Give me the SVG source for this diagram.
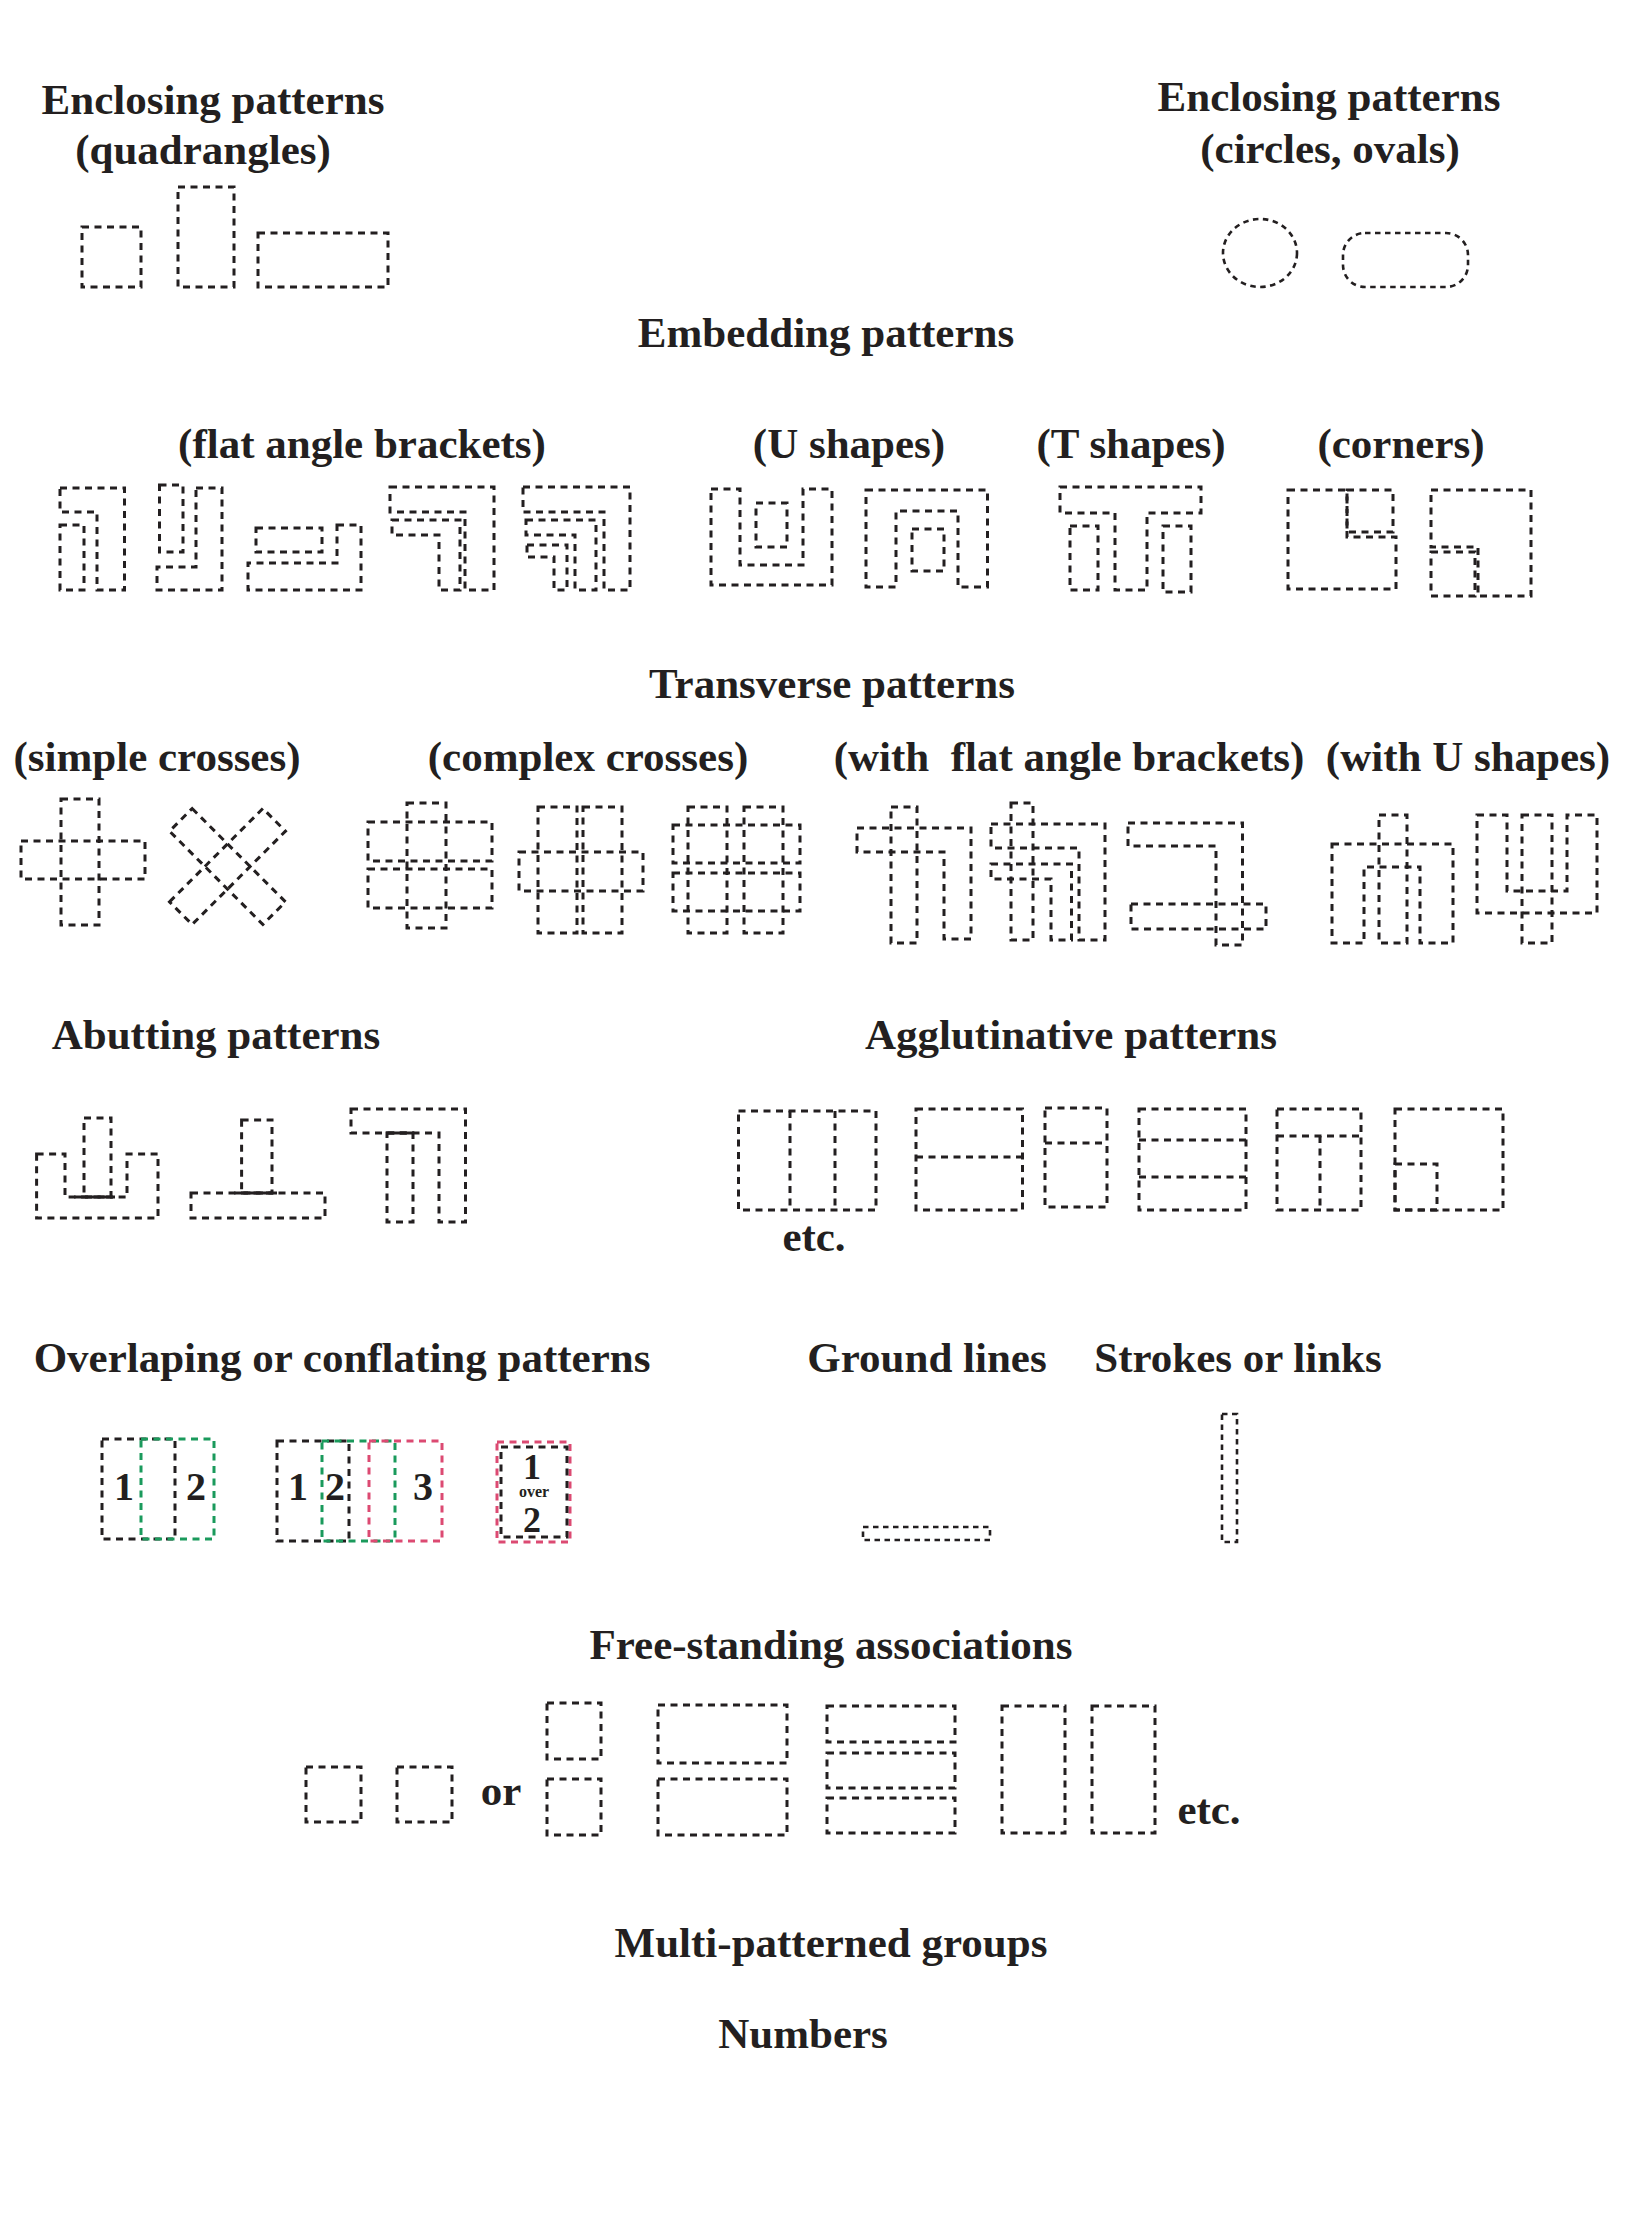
<svg xmlns="http://www.w3.org/2000/svg" width="1628" height="2224" viewBox="0 0 1628 2224">
<style>
.d{fill:none;stroke:#231f20;stroke-width:3;stroke-dasharray:7 5.5}
.ds{fill:none;stroke:#231f20;stroke-width:2.6;stroke-dasharray:5.5 4.5}
.g{fill:none;stroke:#1a9a5c;stroke-width:3;stroke-dasharray:7 5.5}
.p{fill:none;stroke:#dc4a72;stroke-width:3;stroke-dasharray:7 5.5}
.sl{stroke:#231f20;stroke-width:3}
.t{font-family:"Liberation Serif","Times New Roman",serif;font-weight:bold;font-size:43px;fill:#231f20;text-anchor:middle}
.n{font-family:"Liberation Serif","Times New Roman",serif;font-weight:bold;font-size:40px;fill:#231f20;text-anchor:middle}
</style>
<rect width="1628" height="2224" fill="#ffffff"/>

<g id="enclosing-quadrangles">
<text class="t" x="213" y="114">Enclosing patterns</text>
<text class="t" x="203" y="164">(quadrangles)</text>
<rect class="d" x="82" y="227" width="59" height="60"/>
<rect class="d" x="178" y="187" width="56" height="100"/>
<rect class="d" x="258" y="233" width="130" height="54"/>
</g>

<g id="enclosing-circles">
<text class="t" x="1329" y="111">Enclosing patterns</text>
<text class="t" x="1330" y="163">(circles, ovals)</text>
<ellipse class="ds" cx="1260" cy="253" rx="37" ry="34"/>
<rect class="ds" x="1343" y="233" width="125" height="54" rx="22"/>
</g>

<g id="embedding">
<text class="t" x="826" y="347">Embedding patterns</text>
<text class="t" x="362" y="458">(flat angle brackets)</text>
<text class="t" x="849" y="458">(U shapes)</text>
<text class="t" x="1131" y="458">(T shapes)</text>
<text class="t" x="1401" y="458">(corners)</text>
<polygon class="d" points="60,488 124.5,488 124.5,590 97,590 97,512 60,512"/>
<rect class="d" x="60" y="525" width="24" height="65"/>
<polygon class="d" points="196,488 222,488 222,590 157,590 157,567 196,567"/>
<rect class="d" x="159.5" y="485" width="23.5" height="67"/>
<polygon class="d" points="337,525 361,525 361,590 248,590 248,563 337,563"/>
<rect class="d" x="256" y="528" width="66" height="24"/>
<polygon class="d" points="390,487 494,487 494,590 465,590 465,512 390,512"/>
<polygon class="d" points="392,520 460,520 460,590 439,590 439,535 392,535"/>
<polygon class="d" points="523,487 630,487 630,590 604,590 604,512 523,512"/>
<polygon class="d" points="526,520 596,520 596,590 575,590 575,535 526,535"/>
<polygon class="d" points="527,545 567,545 567,590 554,590 554,557 527,557"/>
<polygon class="d" points="711,489 740,489 740,565 803,565 803,489 832,489 832,585 711,585"/>
<rect class="d" x="756" y="503" width="31" height="44"/>
<polygon class="d" points="866,490 987.5,490 987.5,587 958,587 958,511 896,511 896,587 866,587"/>
<rect class="d" x="912" y="529" width="32" height="42"/>
<polygon class="d" points="1060,487 1201,487 1201,513 1147,513 1147,590 1115,590 1115,513 1060,513"/>
<rect class="d" x="1070" y="526" width="28" height="64"/>
<rect class="d" x="1163" y="526" width="28" height="66"/>
<polygon class="d" points="1288,490 1347,490 1347,537 1396,537 1396,589 1288,589"/>
<rect class="d" x="1347" y="490" width="46" height="42"/>
<polygon class="d" points="1431,490 1531,490 1531,596 1478,596 1478,547 1431,547"/>
<rect class="d" x="1431" y="552" width="44" height="44"/>
</g>

<g id="transverse">
<text class="t" x="832" y="698">Transverse patterns</text>
<text class="t" x="157" y="771">(simple crosses)</text>
<text class="t" x="588" y="771">(complex crosses)</text>
<text class="t" x="1069" y="771" xml:space="preserve">(with  flat angle brackets)</text>
<text class="t" x="1468" y="771">(with U shapes)</text>
<rect class="d" x="61" y="799" width="38" height="126"/>
<rect class="d" x="21" y="841" width="124" height="38"/>
<g transform="translate(227.5,866.5)">
<rect class="d" x="-66" y="-16" width="132" height="32" transform="rotate(45)"/>
<rect class="d" x="-66" y="-16" width="132" height="32" transform="rotate(-45)"/>
</g>
<rect class="d" x="407" y="803" width="39" height="125"/>
<rect class="d" x="368" y="822" width="124" height="39"/>
<rect class="d" x="368" y="869" width="124" height="39"/>
<rect class="d" x="538" y="807" width="39" height="126"/>
<rect class="d" x="583" y="807" width="39" height="126"/>
<rect class="d" x="519" y="852" width="124" height="39"/>
<rect class="d" x="688" y="807" width="39" height="126"/>
<rect class="d" x="744" y="807" width="39" height="126"/>
<rect class="d" x="673" y="825" width="127" height="38"/>
<rect class="d" x="673" y="873" width="127" height="38"/>
<polygon class="d" points="857,828 971,828 971,939 944,939 944,852 857,852"/>
<rect class="d" x="891" y="807" width="26" height="136"/>
<polygon class="d" points="991,824 1105,824 1105,940 1079,940 1079,848 991,848"/>
<polygon class="d" points="991,864 1071.5,864 1071.5,940 1051,940 1051,879 991,879"/>
<rect class="d" x="1011" y="803" width="22" height="137"/>
<polygon class="d" points="1128,823 1242.5,823 1242.5,945 1216,945 1216,846 1128,846"/>
<rect class="d" x="1131" y="904" width="135" height="25"/>
<polygon class="d" points="1332,844 1453,844 1453,943 1420,943 1420,867 1364,867 1364,943 1332,943"/>
<rect class="d" x="1379" y="815" width="28" height="128"/>
<polygon class="d" points="1477,815 1507,815 1507,891 1567,891 1567,815 1597,815 1597,913 1477,913"/>
<rect class="d" x="1522" y="815" width="30" height="128"/>
</g>

<g id="abutting">
<text class="t" x="216" y="1049">Abutting patterns</text>
<polygon class="d" points="36.6,1154 65,1154 65,1197 127,1197 127,1154 158,1154 158,1218 36.6,1218"/>
<rect class="d" x="84" y="1118" width="27" height="79"/>
<line class="sl" x1="74" y1="1197" x2="115" y2="1197"/>
<rect class="d" x="241.6" y="1120" width="30.4" height="73"/>
<rect class="d" x="191" y="1193" width="134" height="25"/>
<line class="sl" x1="234" y1="1193" x2="277" y2="1193"/>
<polygon class="d" points="351,1109 465.5,1109 465.5,1222 439,1222 439,1133 351,1133"/>
<rect class="d" x="387" y="1133" width="26" height="89"/>
<line class="sl" x1="386" y1="1133" x2="414" y2="1133"/>
</g>

<g id="agglutinative">
<text class="t" x="1071" y="1049">Agglutinative patterns</text>
<rect class="d" x="738.5" y="1111" width="137.5" height="99"/>
<line class="d" x1="790" y1="1111" x2="790" y2="1210"/>
<line class="d" x1="835" y1="1111" x2="835" y2="1210"/>
<rect class="d" x="916" y="1109" width="106.5" height="101"/>
<line class="d" x1="916" y1="1157" x2="1022.5" y2="1157"/>
<rect class="d" x="1045" y="1108" width="62" height="99"/>
<line class="d" x1="1045" y1="1143" x2="1107" y2="1143"/>
<rect class="d" x="1139" y="1109" width="107" height="101"/>
<line class="d" x1="1139" y1="1140" x2="1246" y2="1140"/>
<line class="d" x1="1139" y1="1177" x2="1246" y2="1177"/>
<rect class="d" x="1277" y="1109" width="84" height="101"/>
<line class="d" x1="1277" y1="1136" x2="1361" y2="1136"/>
<line class="d" x1="1320" y1="1136" x2="1320" y2="1210"/>
<rect class="d" x="1395" y="1109" width="108" height="101"/>
<rect class="d" x="1395" y="1164" width="42" height="46"/>
<text class="t" x="814" y="1251">etc.</text>
</g>

<g id="overlapping">
<text class="t" x="342" y="1372">Overlaping or conflating patterns</text>
<rect class="d" x="102" y="1439" width="73" height="100"/>
<rect class="g" x="141" y="1439" width="73" height="100"/>
<text class="n" x="124" y="1500">1</text>
<text class="n" x="196" y="1500">2</text>
<rect class="d" x="277" y="1441" width="72" height="100"/>
<rect class="g" x="322" y="1441" width="73" height="100"/>
<rect class="p" x="369" y="1441" width="73" height="100"/>
<text class="n" x="298" y="1500">1</text>
<text class="n" x="335" y="1500">2</text>
<text class="n" x="423" y="1500">3</text>
<rect class="p" x="497" y="1442" width="73" height="100"/>
<rect class="d" x="501" y="1447" width="66" height="90"/>
<text class="n" x="532" y="1479" style="font-size:36px">1</text>
<text class="n" x="534" y="1497" style="font-size:16px">over</text>
<text class="n" x="532" y="1532" style="font-size:36px">2</text>
</g>

<g id="ground-lines">
<text class="t" x="927" y="1372">Ground lines</text>
<rect class="ds" x="863" y="1527" width="127" height="13"/>
</g>

<g id="strokes-links">
<text class="t" x="1238" y="1372">Strokes or links</text>
<rect class="ds" x="1222" y="1414" width="15" height="128"/>
</g>

<g id="free-standing">
<text class="t" x="831" y="1659">Free-standing associations</text>
<rect class="d" x="306" y="1767" width="55" height="55"/>
<rect class="d" x="397" y="1767" width="55" height="55"/>
<text class="t" x="501" y="1805">or</text>
<rect class="d" x="547" y="1703" width="54" height="56"/>
<rect class="d" x="547" y="1779" width="54" height="56"/>
<rect class="d" x="658" y="1705" width="129" height="58"/>
<rect class="d" x="658" y="1779" width="129" height="56"/>
<rect class="d" x="827" y="1706" width="128" height="36"/>
<rect class="d" x="827" y="1753" width="128" height="35"/>
<rect class="d" x="827" y="1798" width="128" height="35"/>
<rect class="d" x="1002" y="1706" width="63" height="127"/>
<rect class="d" x="1092" y="1706" width="63" height="127"/>
<text class="t" x="1209" y="1824">etc.</text>
</g>

<g id="multi-patterned">
<text class="t" x="831" y="1957">Multi-patterned groups</text>
</g>
<g id="numbers">
<text class="t" x="803" y="2048">Numbers</text>
</g>
<g id="connectors"></g>
</svg>
